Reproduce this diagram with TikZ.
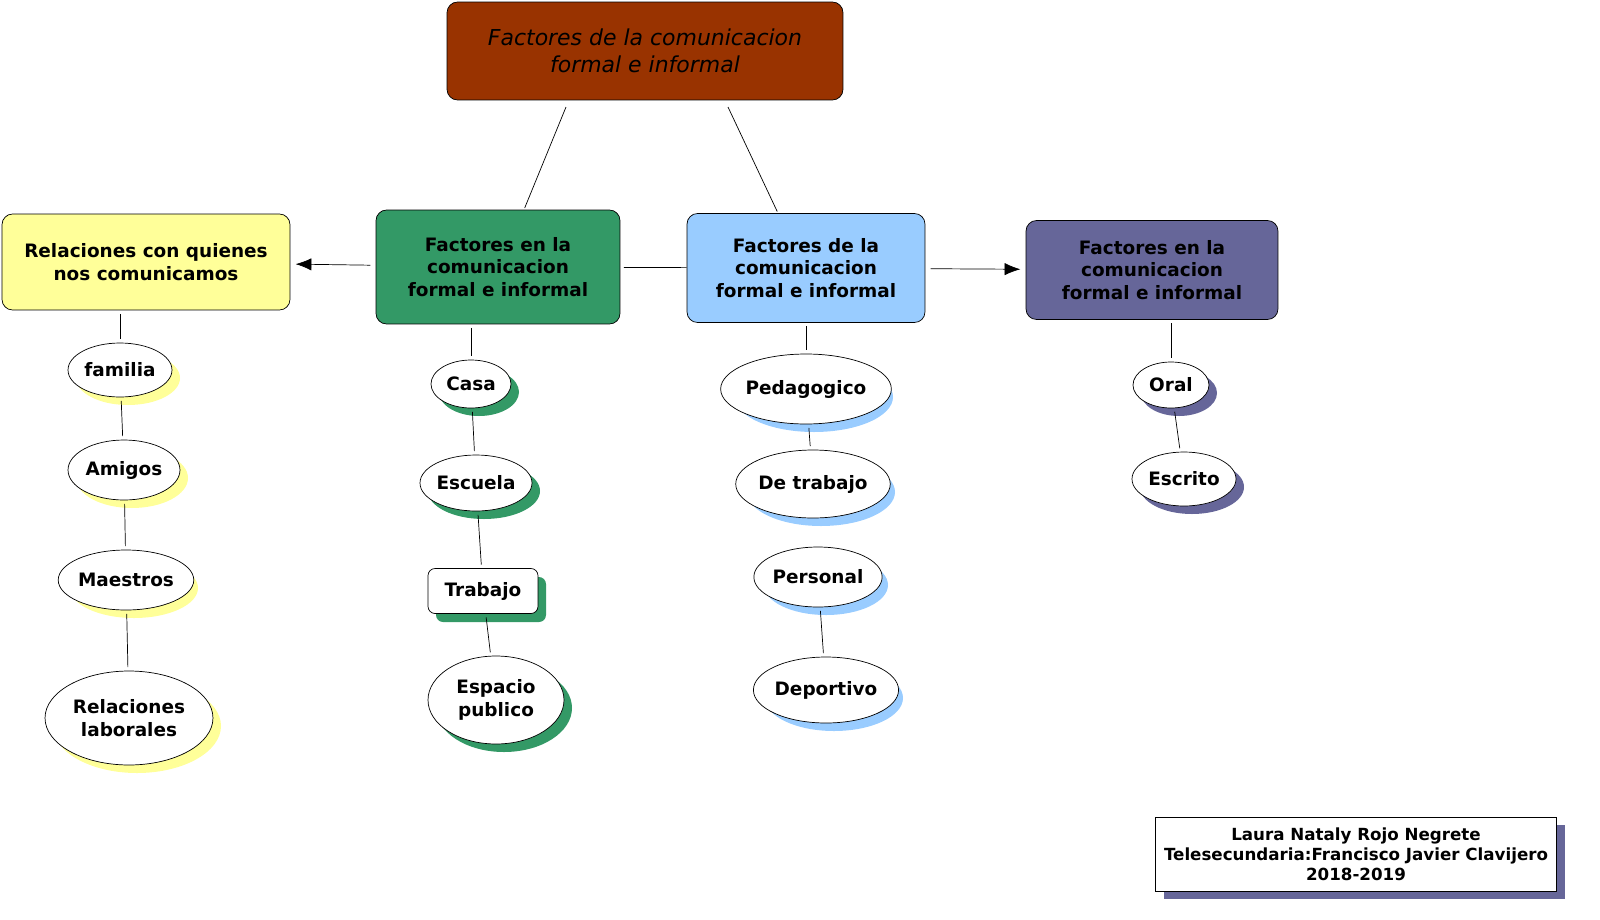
\documentclass[tikz,border=0pt]{standalone}
\usepackage{fontspec}
\setmainfont{DejaVu Sans}
\usetikzlibrary{shapes.geometric, arrows.meta, positioning}
\definecolor{titlered}{HTML}{993300}
\definecolor{yel}{HTML}{FFFF99}
\definecolor{grn}{HTML}{339966}
\definecolor{blu}{HTML}{99CCFF}
\definecolor{pur}{HTML}{666699}
\begin{document}
\begin{tikzpicture}[x=0.02cm, y=-0.02cm,
    box/.style={rectangle, draw=black, rounded corners=6pt, align=center, font=\bfseries\fontsize{10.5}{13}\selectfont},
    item/.style={ellipse, draw=black, fill=white, align=center, inner sep=0pt, font=\bfseries\fontsize{10.5}{13}\selectfont},
    shade/.style={ellipse, fill=#1, draw=none, inner sep=0pt},
    link/.style={thin, shorten <=2pt, shorten >=2pt},
    arrow/.style={-{Latex[length=9pt,width=7pt]}, thin, shorten <=3pt, shorten >=3pt}
]
\useasboundingbox (0,0) rectangle (1600,920);

% Main boxes
\node[box, fill=titlered, minimum width=7.92cm, minimum height=1.96cm, font=\itshape\fontsize{12.5}{15.5}\selectfont] (title) at (645,51) {Factores de la comunicacion\\formal e informal};
\node[box, fill=yel, minimum width=5.76cm, minimum height=1.92cm] (rel) at (146,262) {Relaciones con quienes\\nos comunicamos};
\node[box, fill=grn, minimum width=4.88cm, minimum height=2.28cm] (fen) at (498,267) {Factores en la\\comunicacion\\formal e informal};
\node[box, fill=blu, minimum width=4.76cm, minimum height=2.18cm] (fde) at (806,268) {Factores de la\\comunicacion\\formal e informal};
\node[box, fill=pur, minimum width=5.04cm, minimum height=1.98cm] (fen2) at (1152,270) {Factores en la\\comunicacion\\formal e informal};
\coordinate (tl) at (566,107);
\coordinate (tr) at (728,107);

% Shadows
\foreach \x/\y/\w/\h/\c in {120/370/104/54/yel, 124/470/112/60/yel, 126/580/128/60/yel, 129/718/168/94/yel,
    471/384/80/48/grn, 476/483/112/56/grn, 496/700/136/88/grn,
    806/389/158/70/blu, 813/484/148/68/blu, 818/577/124/60/blu, 826/690/138/66/blu,
    1171/385/76/46/pur, 1184/479/104/54/pur}
  \node[shade=\c, minimum width=\w*0.02cm, minimum height=\h*0.02cm] at (\x+8,\y+8) {};
\fill[grn, rounded corners=4pt] (436,577) rectangle (546,622);
\fill[pur] (1164,825) rectangle (1565,899);

% Yellow branch
\node[item, minimum width=2.08cm, minimum height=1.08cm] (familia) at (120,370) {familia};
\node[item, minimum width=2.24cm, minimum height=1.2cm] (amigos) at (124,470) {Amigos};
\node[item, minimum width=2.56cm, minimum height=1.2cm] (maestros) at (126,580) {Maestros};
\node[item, minimum width=3.36cm, minimum height=1.88cm] (laborales) at (129,718) {Relaciones\\laborales};

% Green branch
\node[item, minimum width=1.6cm, minimum height=0.96cm] (casa) at (471,384) {Casa};
\node[item, minimum width=2.24cm, minimum height=1.12cm] (escuela) at (476,483) {Escuela};
\node[box, fill=white, rounded corners=4pt, minimum width=2.2cm, minimum height=0.9cm] (trabajo) at (483,591) {Trabajo};
\node[item, minimum width=2.72cm, minimum height=1.76cm] (espacio) at (496,700) {Espacio\\publico};

% Blue branch
\node[item, minimum width=3.16cm, minimum height=1.4cm] (pedagogico) at (806,389) {Pedagogico};
\node[item, minimum width=2.96cm, minimum height=1.36cm] (detrabajo) at (813,484) {De trabajo};
\node[item, minimum width=2.48cm, minimum height=1.2cm] (personal) at (818,577) {Personal};
\node[item, minimum width=2.76cm, minimum height=1.32cm] (deportivo) at (826,690) {Deportivo};

% Purple branch
\node[item, minimum width=1.52cm, minimum height=0.92cm] (oral) at (1171,385) {Oral};
\node[item, minimum width=2.08cm, minimum height=1.08cm] (escrito) at (1184,479) {Escrito};

% Credits
\node[rectangle, draw=black, fill=white, minimum width=8.02cm, minimum height=1.48cm, align=center,
    font=\bfseries\fontsize{9.5}{11.5}\selectfont] (credits) at (1356,854)
    {Laura Nataly Rojo Negrete\\Telesecundaria:Francisco Javier Clavijero\\2018-2019};

% Connectors
\draw[thin, shorten >=1pt] (tl) -- (fen.north -| 524,0);
\draw[thin, shorten >=1pt] (tr) -- (fde.north -| 778,0);
\draw[arrow] (fen) -- (rel);
\draw[thin, shorten <=2pt] (fen) -- (fde);
\draw[arrow] (fde) -- (fen2);
\draw[link] (rel.south -| familia) -- (familia);
\draw[link] (familia) -- (amigos);
\draw[link] (amigos) -- (maestros);
\draw[link] (maestros) -- (laborales);
\draw[link] (fen.south -| casa) -- (casa);
\draw[link] (casa) -- (escuela);
\draw[link] (escuela) -- (trabajo);
\draw[link] (trabajo) -- (espacio);
\draw[link] (fde.south -| pedagogico) -- (pedagogico);
\draw[link] (pedagogico) -- (detrabajo);
\draw[link] (personal) -- (deportivo);
\draw[link] (fen2.south -| oral) -- (oral);
\draw[link] (oral) -- (escrito);
\end{tikzpicture}
\end{document}
